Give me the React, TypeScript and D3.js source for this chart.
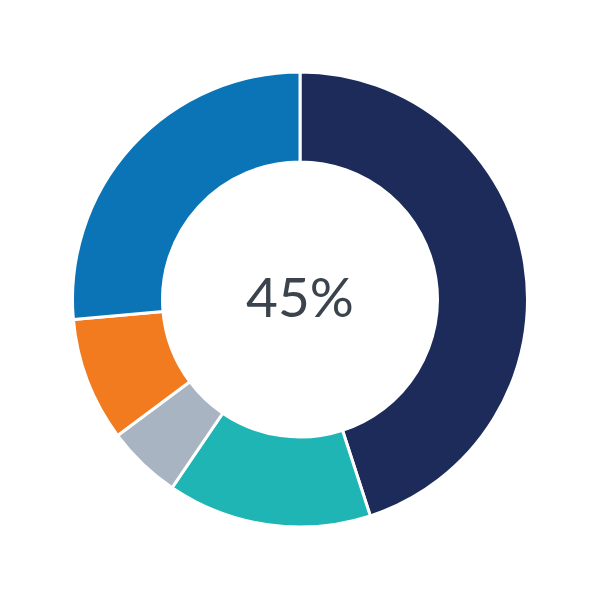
import React from "react";
import * as d3 from "d3";

const categories = ["Navy", "Teal", "Gray", "Orange", "Blue"];
const values = [45, 14.5, 5.3, 8.8, 26.4];
const colors = ["#1c2b5a", "#1fb5b5", "#a9b4c2", "#f27b20", "#0a74b6"];
const centerLabel = "45%";

export default function App() {
  const width = 600;
  const height = 600;
  const cx = 300;
  const cy = 299.5;
  const outerR = 227.5;
  const innerR = 137.5;

  const pie = d3
    .pie<number>()
    .sort(null)
    .value((d) => d);
  const arcs = pie(values);
  const arc = d3.arc<d3.PieArcDatum<number>>().innerRadius(innerR).outerRadius(outerR);

  return (
    <svg
      width={width}
      height={height}
      style={{ position: "absolute", left: 0, top: 0, background: "#fff" }}
    >
      <g transform={`translate(${cx},${cy})`}>
        {arcs.map((a, i) => (
          <path
            key={categories[i]}
            d={arc(a) || ""}
            fill={colors[i]}
            stroke="#fff"
            strokeWidth={3}
            strokeLinejoin="round"
          />
        ))}
        <text
          x={0}
          y={17.5}
          textAnchor="middle"
          fontFamily="Lato, 'Open Sans', sans-serif"
          fontSize={55}
          fill="#3b434d"
        >
          {centerLabel}
        </text>
      </g>
    </svg>
  );
}
